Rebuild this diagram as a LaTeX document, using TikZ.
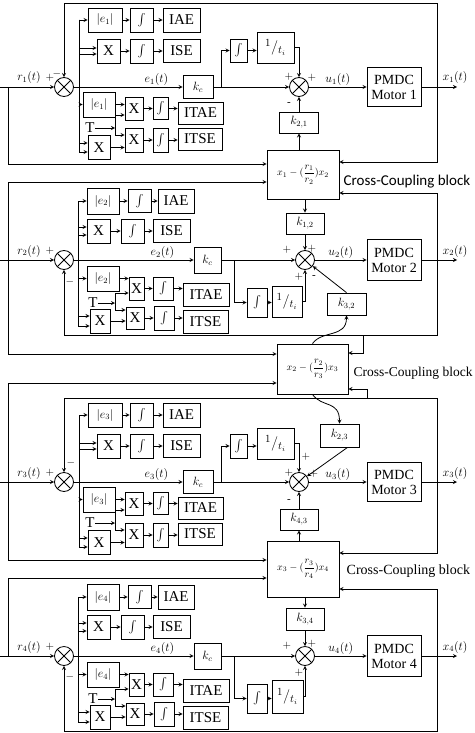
\documentclass[tikz,border=0pt]{standalone}
\usepackage{amsmath}
\usepackage{amssymb}
\usepackage{fontspec}
\setmainfont{Liberation Serif}
\newfontfamily\calibri{Carlito}
\usepackage{tikz}
\usetikzlibrary{positioning}

\begin{document}
\begin{tikzpicture}[%
  x=1pt, y=-1pt,
  >=stealth,
  line width=0.8pt,
  font=\fontsize{12}{14}\selectfont,
  bx/.style 2 args={draw, inner sep=0pt, minimum width=#1, minimum height=#2},
  bigtxt/.style={font=\fontsize{15}{16}\selectfont},
  mottxt/.style={align=center, font=\fontsize{14}{15}\selectfont},
  cctxt/.style={font=\fontsize{10}{11}\selectfont},
  sumj/.style={draw, circle, inner sep=0pt, minimum size=19pt,
    path picture={\draw (path picture bounding box.north west) -- (path picture bounding box.south east)
      (path picture bounding box.south west) -- (path picture bounding box.north east);}},
  lbl/.style={inner sep=1pt},
  sgn/.style={inner sep=0pt, font=\fontsize{11}{12}\selectfont}
  ]
  \useasboundingbox (0,0) rectangle (474,733);

  %% Loop 1
  \begin{scope}[shift={(0,87)}]
    \node[sumj] (s1) at (64,0) {};
    \node[bx={34pt}{24pt}] (ea1) at (105,-67) {$|e_1|$};
    \node[bx={23pt}{24pt}] (ia1) at (141.5,-67) {$\int$};
    \node[bx={37pt}{24pt}, bigtxt] (iae1) at (181.5,-67) {IAE};
    \node[bx={23pt}{24pt}, bigtxt] (xs1) at (108.5,-36) {X};
    \node[bx={23pt}{24pt}] (is1) at (141.5,-36) {$\int$};
    \node[bx={37pt}{23pt}, bigtxt] (ise1) at (181.5,-36) {ISE};
    \node[bx={30pt}{23pt}] (kc1) at (198,0) {$k_c$};
    \node[bx={32pt}{25pt}] (eb1) at (99,17.5) {$|e_1|$};
    \node[bx={18pt}{23pt}, bigtxt] (xt1) at (134,21.5) {X};
    \node[bx={15pt}{22pt}] (it1) at (160.5,21.5) {$\int$};
    \node[bx={45pt}{22pt}, bigtxt] (itae1) at (200.5,26) {ITAE};
    \node[bigtxt, inner sep=0pt] (T1) at (90,41) {T};
    \node[bx={18pt}{24pt}, bigtxt] (xq1) at (134,53) {X};
    \node[bx={15pt}{24pt}] (iq1) at (160.5,53) {$\int$};
    \node[bx={44pt}{22pt}, bigtxt] (itse1) at (200,52) {ITSE};
    \node[bx={22pt}{24pt}, bigtxt] (xl1) at (99,60.5) {X};
    \node[bx={17pt}{23pt}] (ip1) at (238.5,-36.5) {$\int$};
    \node[bx={37pt}{31pt}, bigtxt] (tp1) at (275.5,-39.5) {$^1/_{t_i}$};
    \node[sumj] (sb1) at (299,0) {};
    \node[bx={54pt}{39pt}, mottxt] (mot1) at (394,0) {PMDC\\Motor 1};
    \coordinate (in1) at (0,0);
    \coordinate (rl1) at (8,0);
    \coordinate (bt1) at (79,-67);
    \coordinate (jt1) at (115,41);
    \coordinate (pb1) at (221,0);
    \coordinate (t1) at (437,0);
    \coordinate (up1) at (437,-84);
    \coordinate (o1) at (457,0);
    %% Edges
    \draw[->] (in1) -- (s1);
    \draw[->] (s1) -- node[lbl, above, pos=0.76] {$e_1(t)$} (kc1);
    \draw[->] (bt1) -- (ea1);
    \draw[->] (ea1) -- (ia1);
    \draw[->] (ia1) -- (iae1);
    \draw[->] (bt1) |- ([yshift=3pt]xs1.west);
    \draw[->] (bt1) |- ([yshift=-3pt]xs1.west);
    \draw[->] (xs1) -- (is1);
    \draw[->] (is1) -- (ise1);
    \draw[->] (bt1) |- (eb1);
    \draw[->] (eb1.east) -- (eb1.east -| xt1.west);
    \draw[->] (T1) -- (jt1);
    \draw[->] (jt1) |- ([yshift=-6.5pt]xt1.west);
    \draw[->] (jt1) |- ([yshift=5pt]xq1.west);
    \draw[->] (xt1) -- (it1);
    \draw[->] (it1.east) -- (it1.east -| itae1.west);
    \draw[->] (bt1) |- ([yshift=4.5pt]xl1.west);
    \draw[->] (bt1) |- ([yshift=-4.5pt]xl1.west);
    \draw[->] (xl1.east) -- (xl1.east -| xq1.west);
    \draw[->] (xq1) -- (iq1);
    \draw[->] (iq1.east) -- (iq1.east -| itse1.west);
    \draw[->] (kc1) -- (sb1);
    \draw[->] (pb1) |- (ip1);
    \draw[->] (ip1.east) -- (ip1.east -| tp1.west);
    \draw[->] (tp1.east) -| (sb1.north);
    \draw[->] (sb1) -- node[lbl, above] {$u_1(t)$} (mot1);
    \draw[->] (mot1) -- (o1);
    \draw[->] (t1) -- (up1) -| (s1.north);
    %% Labels
    \node[lbl] at (29,-9) {$r_1(t)$};
    \node[sgn] at (50,-9) {$+$};
    \node[sgn] at (57,-13) {$-$};
    \node[sgn] at (289,-10) {$+$};
    \node[sgn] at (312,-9) {$+$};
    \node[sgn] at (289,17) {-};
    \node[lbl] at (455,-9) {$x_1(t)$};
  \end{scope}

  %% Loop 2
  \begin{scope}[shift={(0,260)}]
    \node[sumj] (s2) at (64,0) {};
    \node[bx={32pt}{26pt}] (ea2) at (103,-59) {$|e_2|$};
    \node[bx={23pt}{23pt}] (ia2) at (139.5,-59) {$\int$};
    \node[bx={36pt}{24pt}, bigtxt] (iae2) at (176,-59) {IAE};
    \node[bx={23pt}{24pt}, bigtxt] (xs2) at (98.5,-29) {X};
    \node[bx={23pt}{24pt}] (is2) at (132.5,-29) {$\int$};
    \node[bx={37pt}{23pt}, bigtxt] (ise2) at (171.5,-29) {ISE};
    \node[bx={27pt}{26pt}] (kc2) at (207.5,0) {$k_c$};
    \node[bx={32pt}{25pt}] (eb2) at (103,18.5) {$|e_2|$};
    \node[bx={15pt}{23pt}, bigtxt] (xt2) at (136.5,28.5) {X};
    \node[bx={20pt}{23pt}] (it2) at (163,28.5) {$\int$};
    \node[bx={46pt}{23pt}, bigtxt] (itae2) at (206,34.5) {ITAE};
    \node[bigtxt, inner sep=0pt] (T2) at (93,43) {T};
    \node[bx={18pt}{22pt}, bigtxt] (xq2) at (135,58) {X};
    \node[bx={20pt}{24pt}] (iq2) at (164,58) {$\int$};
    \node[bx={45pt}{23pt}, bigtxt] (itse2) at (205.5,61.5) {ITSE};
    \node[bx={20pt}{24pt}, bigtxt] (xl2) at (100,61) {X};
    \node[bx={20pt}{29pt}] (ip2) at (257,42.5) {$\int$};
    \node[bx={30pt}{31pt}, bigtxt] (tp2) at (287,41.5) {$^1/_{t_i}$};
    \node[sumj] (sb2) at (305,0) {};
    \node[bx={54pt}{41pt}, mottxt] (mot2) at (394,0) {PMDC\\Motor 2};
    \coordinate (in2) at (0,0);
    \coordinate (rl2) at (8,0);
    \coordinate (bt2) at (78,-59);
    \coordinate (jt2) at (115,43);
    \coordinate (pb2) at (234,0);
    \coordinate (t2) at (437,0);
    \coordinate (dn2) at (437,75);
    \coordinate (bc2) at (363,75);
    \coordinate (o2) at (457,0);
    %% Edges
    \draw[->] (in2) -- (s2);
    \draw[->] (s2) -- node[lbl, above, pos=0.74] {$e_2(t)$} (kc2);
    \draw[->] (bt2) -- (ea2);
    \draw[->] (ea2) -- (ia2);
    \draw[->] (ia2) -- (iae2);
    \draw[->] (bt2) |- ([yshift=4pt]xs2.west);
    \draw[->] (bt2) |- ([yshift=-4pt]xs2.west);
    \draw[->] (xs2) -- (is2);
    \draw[->] (is2) -- (ise2);
    \draw[->] (bt2) |- (eb2);
    \draw[->] (eb2.east) -- (eb2.east -| xt2.west);
    \draw[->] (T2) -- (jt2);
    \draw[->] (jt2) |- ([yshift=-4.5pt]xt2.west);
    \draw[->] (jt2) |- ([yshift=8pt]xq2.west);
    \draw[->] (xt2) -- (it2);
    \draw[->] (it2.east) -- (it2.east -| itae2.west);
    \draw[->] (bt2) |- ([yshift=5pt]xl2.west);
    \draw[->] (bt2) |- ([yshift=-5pt]xl2.west);
    \draw[->] (xl2.east) -- (xl2.east -| xq2.west);
    \draw[->] (xq2) -- (iq2);
    \draw[->] (iq2.east) -- (iq2.east -| itse2.west);
    \draw[->] (kc2) -- (sb2);
    \draw[->] (pb2) |- (ip2);
    \draw[->] (ip2.east) -- (ip2.east -| tp2.west);
    \draw[->] (tp2.east) -| (sb2.south);
    \draw[->] (sb2) -- node[lbl, above] {$u_2(t)$} (mot2);
    \draw[->] (mot2) -- (o2);
    \draw[->] (t2) -- (dn2) -| (s2.south);
    %% Labels
    \node[lbl] at (29,-9) {$r_2(t)$};
    \node[sgn] at (50,-9) {$+$};
    \node[sgn] at (70,22) {$-$};
    \node[sgn] at (287,-10) {$+$};
    \node[sgn] at (312,-11) {$+$};
    \node[sgn] at (299,17) {$+$};
    \node[sgn] at (314,17) {-};
    \node[lbl] at (455,-9) {$x_2(t)$};
  \end{scope}

  %% Loop 3
  \begin{scope}[shift={(0,482)}]
    \node[sumj] (s3) at (64,0) {};
    \node[bx={34pt}{24pt}] (ea3) at (105,-67) {$|e_3|$};
    \node[bx={23pt}{24pt}] (ia3) at (141.5,-67) {$\int$};
    \node[bx={37pt}{24pt}, bigtxt] (iae3) at (181.5,-67) {IAE};
    \node[bx={23pt}{24pt}, bigtxt] (xs3) at (108.5,-36) {X};
    \node[bx={23pt}{24pt}] (is3) at (141.5,-36) {$\int$};
    \node[bx={37pt}{23pt}, bigtxt] (ise3) at (181.5,-36) {ISE};
    \node[bx={30pt}{23pt}] (kc3) at (198,0) {$k_c$};
    \node[bx={32pt}{25pt}] (eb3) at (99,17.5) {$|e_3|$};
    \node[bx={18pt}{23pt}, bigtxt] (xt3) at (134,21.5) {X};
    \node[bx={15pt}{22pt}] (it3) at (160.5,21.5) {$\int$};
    \node[bx={45pt}{22pt}, bigtxt] (itae3) at (200.5,26) {ITAE};
    \node[bigtxt, inner sep=0pt] (T3) at (90,41) {T};
    \node[bx={18pt}{24pt}, bigtxt] (xq3) at (134,53) {X};
    \node[bx={15pt}{24pt}] (iq3) at (160.5,53) {$\int$};
    \node[bx={44pt}{22pt}, bigtxt] (itse3) at (200,52) {ITSE};
    \node[bx={22pt}{24pt}, bigtxt] (xl3) at (99,60.5) {X};
    \node[bx={17pt}{24pt}] (ip3) at (238.5,-36) {$\int$};
    \node[bx={37pt}{31pt}, bigtxt] (tp3) at (275.5,-38.5) {$^1/_{t_i}$};
    \node[sumj] (sb3) at (299,0) {};
    \node[bx={54pt}{39pt}, mottxt] (mot3) at (394,0) {PMDC\\Motor 3};
    \coordinate (in3) at (0,0);
    \coordinate (rl3) at (8,0);
    \coordinate (bt3) at (79,-67);
    \coordinate (jt3) at (115,41);
    \coordinate (pb3) at (221,0);
    \coordinate (t3) at (437,0);
    \coordinate (up3) at (437,-84);
    \coordinate (bc3) at (367,-84);
    \coordinate (o3) at (457,0);
    %% Edges
    \draw[->] (in3) -- (s3);
    \draw[->] (s3) -- node[lbl, above, pos=0.76] {$e_3(t)$} (kc3);
    \draw[->] (bt3) -- (ea3);
    \draw[->] (ea3) -- (ia3);
    \draw[->] (ia3) -- (iae3);
    \draw[->] (bt3) |- ([yshift=3pt]xs3.west);
    \draw[->] (bt3) |- ([yshift=-3pt]xs3.west);
    \draw[->] (xs3) -- (is3);
    \draw[->] (is3) -- (ise3);
    \draw[->] (bt3) |- (eb3);
    \draw[->] (eb3.east) -- (eb3.east -| xt3.west);
    \draw[->] (T3) -- (jt3);
    \draw[->] (jt3) |- ([yshift=-6.5pt]xt3.west);
    \draw[->] (jt3) |- ([yshift=5pt]xq3.west);
    \draw[->] (xt3) -- (it3);
    \draw[->] (it3.east) -- (it3.east -| itae3.west);
    \draw[->] (bt3) |- ([yshift=4.5pt]xl3.west);
    \draw[->] (bt3) |- ([yshift=-4.5pt]xl3.west);
    \draw[->] (xl3.east) -- (xl3.east -| xq3.west);
    \draw[->] (xq3) -- (iq3);
    \draw[->] (iq3.east) -- (iq3.east -| itse3.west);
    \draw[->] (kc3) -- (sb3);
    \draw[->] (pb3) |- (ip3);
    \draw[->] (ip3.east) -- (ip3.east -| tp3.west);
    \draw[->] (tp3.east) -| (sb3.north);
    \draw[->] (sb3) -- node[lbl, above] {$u_3(t)$} (mot3);
    \draw[->] (mot3) -- (o3);
    \draw[->] (t3) -- (up3) -| (s3.north);
    %% Labels
    \node[lbl] at (29,-9) {$r_3(t)$};
    \node[sgn] at (50,-9) {$+$};
    \node[sgn] at (71,-19) {$-$};
    \node[sgn] at (306,-25) {$+$};
    \node[sgn] at (289,-9) {$+$};
    \node[sgn] at (314,-8) {$+$};
    \node[sgn] at (289,19) {-};
    \node[lbl] at (455,-9) {$x_3(t)$};
  \end{scope}

  %% Loop 4
  \begin{scope}[shift={(0,656)}]
    \node[sumj] (s4) at (64,0) {};
    \node[bx={32pt}{26pt}] (ea4) at (103,-59) {$|e_4|$};
    \node[bx={23pt}{23pt}] (ia4) at (139.5,-59) {$\int$};
    \node[bx={36pt}{24pt}, bigtxt] (iae4) at (176,-59) {IAE};
    \node[bx={23pt}{24pt}, bigtxt] (xs4) at (98.5,-29) {X};
    \node[bx={23pt}{24pt}] (is4) at (132.5,-29) {$\int$};
    \node[bx={37pt}{23pt}, bigtxt] (ise4) at (171.5,-29) {ISE};
    \node[bx={27pt}{26pt}] (kc4) at (207.5,0) {$k_c$};
    \node[bx={32pt}{25pt}] (eb4) at (103,18.5) {$|e_4|$};
    \node[bx={15pt}{23pt}, bigtxt] (xt4) at (136.5,28.5) {X};
    \node[bx={20pt}{23pt}] (it4) at (163,28.5) {$\int$};
    \node[bx={46pt}{23pt}, bigtxt] (itae4) at (206,34.5) {ITAE};
    \node[bigtxt, inner sep=0pt] (T4) at (93,43) {T};
    \node[bx={18pt}{22pt}, bigtxt] (xq4) at (135,58) {X};
    \node[bx={20pt}{24pt}] (iq4) at (164,58) {$\int$};
    \node[bx={45pt}{23pt}, bigtxt] (itse4) at (205.5,61.5) {ITSE};
    \node[bx={20pt}{24pt}, bigtxt] (xl4) at (100,61) {X};
    \node[bx={20pt}{29pt}] (ip4) at (257,42.5) {$\int$};
    \node[bx={31pt}{33pt}, bigtxt] (tp4) at (287.5,40.5) {$^1/_{t_i}$};
    \node[sumj] (sb4) at (305,0) {};
    \node[bx={54pt}{41pt}, mottxt] (mot4) at (394,0) {PMDC\\Motor 4};
    \coordinate (in4) at (0,0);
    \coordinate (rl4) at (8,0);
    \coordinate (bt4) at (78,-59);
    \coordinate (jt4) at (115,43);
    \coordinate (pb4) at (234,0);
    \coordinate (t4) at (437,0);
    \coordinate (dn4) at (437,75);
    \coordinate (o4) at (457,0);
    %% Edges
    \draw[->] (in4) -- (s4);
    \draw[->] (s4) -- node[lbl, above, pos=0.74] {$e_4(t)$} (kc4);
    \draw[->] (bt4) -- (ea4);
    \draw[->] (ea4) -- (ia4);
    \draw[->] (ia4) -- (iae4);
    \draw[->] (bt4) |- ([yshift=4pt]xs4.west);
    \draw[->] (bt4) |- ([yshift=-4pt]xs4.west);
    \draw[->] (xs4) -- (is4);
    \draw[->] (is4) -- (ise4);
    \draw[->] (bt4) |- (eb4);
    \draw[->] (eb4.east) -- (eb4.east -| xt4.west);
    \draw[->] (T4) -- (jt4);
    \draw[->] (jt4) |- ([yshift=-4.5pt]xt4.west);
    \draw[->] (jt4) |- ([yshift=8pt]xq4.west);
    \draw[->] (xt4) -- (it4);
    \draw[->] (it4.east) -- (it4.east -| itae4.west);
    \draw[->] (bt4) |- ([yshift=5pt]xl4.west);
    \draw[->] (bt4) |- ([yshift=-5pt]xl4.west);
    \draw[->] (xl4.east) -- (xl4.east -| xq4.west);
    \draw[->] (xq4) -- (iq4);
    \draw[->] (iq4.east) -- (iq4.east -| itse4.west);
    \draw[->] (kc4) -- (sb4);
    \draw[->] (pb4) |- (ip4);
    \draw[->] (ip4.east) -- (ip4.east -| tp4.west);
    \draw[->] (tp4.east) -| (sb4.south);
    \draw[->] (sb4) -- node[lbl, above] {$u_4(t)$} (mot4);
    \draw[->] (mot4) -- (o4);
    \draw[->] (t4) -- (dn4) -| (s4.south);
    %% Labels
    \node[lbl] at (29,-9) {$r_4(t)$};
    \node[sgn] at (50,-9) {$+$};
    \node[sgn] at (70,21) {$-$};
    \node[sgn] at (287,-10) {$+$};
    \node[sgn] at (312,-12) {$+$};
    \node[sgn] at (299,17) {$+$};
    \node[lbl] at (455,-9) {$x_4(t)$};
  \end{scope}

  %% Cross-coupling blocks
  \node[bx={72pt}{49pt}, cctxt] (cc1) at (303,174.5) {$x_1-(\dfrac{r_1}{r_2})x_2$};
  \node[bx={71pt}{50pt}, cctxt] (cc2) at (312.5,369) {$x_2-(\dfrac{r_2}{r_3})x_3$};
  \node[bx={72pt}{56pt}, cctxt] (cc3) at (303,569) {$x_3-(\dfrac{r_3}{r_4})x_4$};
  \node[anchor=west, font=\calibri\fontsize{15}{16}\selectfont] (ccl1) at (340,182) {Cross-Coupling block};
  \node[anchor=west, font=\fontsize{13.5}{15}\selectfont] (ccl2) at (350,373) {Cross-Coupling block};
  \node[anchor=west, font=\fontsize{14}{15}\selectfont] (ccl3) at (343,571) {Cross-Coupling block};
  \node[bx={39pt}{21pt}] (k21) at (299,122.5) {$k_{2,1}$};
  \node[bx={38pt}{21pt}] (k12) at (305,223.5) {$k_{1,2}$};
  \node[bx={39pt}{22pt}] (k32) at (346.5,304) {$k_{3,2}$};
  \node[bx={39pt}{23pt}] (k23) at (339.5,435.5) {$k_{2,3}$};
  \node[bx={38pt}{21pt}] (k43) at (299,519.5) {$k_{4,3}$};
  \node[bx={38pt}{22pt}] (k34) at (305,619) {$k_{3,4}$};

  %% Coupling edges
  \draw[->] (k21.south |- cc1.north) -- (k21);
  \draw[->] (k21) -- (sb1);
  \draw[->] (k12.north |- cc1.south) -- (k12);
  \draw[->] (k12) -- (sb2);
  \draw[->] (cc2.north) .. controls (322,330) and (346.5,338) .. (k32.south);
  \draw[->] (k32.north) -- (sb2);
  \draw[->] (cc2.south) .. controls (322,408) and (339.5,400) .. (k23.north);
  \draw[->] ([xshift=8pt]k23.south) -- (sb3);
  \draw[->] (k43.south |- cc3.north) -- (k43);
  \draw[->] (k43) -- (sb3);
  \draw[->] (k34.north |- cc3.south) -- (k34);
  \draw[->] (k34) -- (sb4);
  \draw[->] (rl1) |- ([yshift=10.5pt]cc1.west);
  \draw[->] (rl2) |- ([yshift=-7.5pt]cc1.west);
  \draw[->] (rl2) |- ([yshift=15pt]cc2.west);
  \draw[->] (rl3) |- ([yshift=-14pt]cc2.west);
  \draw[->] (rl3) |- ([yshift=9pt]cc3.west);
  \draw[->] (rl4) |- ([yshift=-9pt]cc3.west);
  \draw[->] (t1) |- ([yshift=12.5pt]cc1.east);
  \draw[->] (t2) |- ([yshift=-18.5pt]cc1.east);
  \draw[->] (bc2) |- ([yshift=16pt]cc2.east);
  \draw[->] (bc3) |- ([yshift=-20pt]cc2.east);
  \draw[->] (t3) |- ([yshift=16pt]cc3.east);
  \draw[->] (t4) |- ([yshift=-20pt]cc3.east);
\end{tikzpicture}
\end{document}
